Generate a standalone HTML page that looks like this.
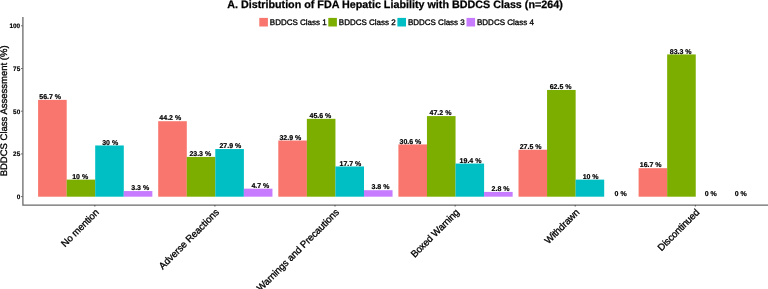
<!DOCTYPE html>
<html><head><meta charset="utf-8"><title>BDDCS</title>
<style>html,body{margin:0;padding:0;background:#fff}svg{display:block}text{font-family:"Liberation Sans",Arial,sans-serif;fill:#000;text-rendering:geometricPrecision}</style></head><body>
<svg width="768" height="289" viewBox="0 0 768 289">
<rect width="768" height="289" fill="#fff"/>
<text x="395" y="7.6" font-size="10.75" font-weight="bold" text-anchor="middle" stroke="#000" stroke-width="0.25">A. Distribution of FDA Hepatic Liability with BDDCS Class (n=264)</text>
<rect x="259.3" y="17.9" width="8.6" height="8.6" fill="#F8766D"/>
<text x="269.80" y="25" font-size="8" stroke="#000" stroke-width="0.3">BDDCS Class 1</text>
<rect x="328.3" y="17.9" width="8.6" height="8.6" fill="#7CAE00"/>
<text x="338.80" y="25" font-size="8" stroke="#000" stroke-width="0.3">BDDCS Class 2</text>
<rect x="397.4" y="17.9" width="8.6" height="8.6" fill="#00BFC4"/>
<text x="407.90" y="25" font-size="8" stroke="#000" stroke-width="0.3">BDDCS Class 3</text>
<rect x="466.5" y="17.9" width="8.6" height="8.6" fill="#C77CFF"/>
<text x="477.00" y="25" font-size="8" stroke="#000" stroke-width="0.3">BDDCS Class 4</text>
<rect x="38.10" y="99.86" width="28.60" height="96.84" fill="#F8766D"/>
<text x="50.16" y="98.96" font-size="7" font-weight="bold" text-anchor="middle" stroke="#000" stroke-width="0.2">56.7 %</text>
<rect x="66.65" y="179.62" width="28.60" height="17.08" fill="#7CAE00"/>
<text x="80.19" y="178.72" font-size="7" font-weight="bold" text-anchor="middle" stroke="#000" stroke-width="0.2">10 %</text>
<rect x="95.20" y="145.46" width="28.60" height="51.24" fill="#00BFC4"/>
<text x="110.21" y="144.56" font-size="7" font-weight="bold" text-anchor="middle" stroke="#000" stroke-width="0.2">30 %</text>
<rect x="123.75" y="191.06" width="28.60" height="5.64" fill="#C77CFF"/>
<text x="140.24" y="190.16" font-size="7" font-weight="bold" text-anchor="middle" stroke="#000" stroke-width="0.2">3.3 %</text>
<rect x="158.20" y="121.21" width="28.60" height="75.49" fill="#F8766D"/>
<text x="170.26" y="120.31" font-size="7" font-weight="bold" text-anchor="middle" stroke="#000" stroke-width="0.2">44.2 %</text>
<rect x="186.75" y="156.90" width="28.60" height="39.80" fill="#7CAE00"/>
<text x="200.29" y="156.00" font-size="7" font-weight="bold" text-anchor="middle" stroke="#000" stroke-width="0.2">23.3 %</text>
<rect x="215.30" y="149.05" width="28.60" height="47.65" fill="#00BFC4"/>
<text x="230.31" y="148.15" font-size="7" font-weight="bold" text-anchor="middle" stroke="#000" stroke-width="0.2">27.9 %</text>
<rect x="243.85" y="188.67" width="28.60" height="8.03" fill="#C77CFF"/>
<text x="260.34" y="187.77" font-size="7" font-weight="bold" text-anchor="middle" stroke="#000" stroke-width="0.2">4.7 %</text>
<rect x="278.30" y="140.51" width="28.60" height="56.19" fill="#F8766D"/>
<text x="290.36" y="139.61" font-size="7" font-weight="bold" text-anchor="middle" stroke="#000" stroke-width="0.2">32.9 %</text>
<rect x="306.85" y="118.82" width="28.60" height="77.88" fill="#7CAE00"/>
<text x="320.39" y="117.92" font-size="7" font-weight="bold" text-anchor="middle" stroke="#000" stroke-width="0.2">45.6 %</text>
<rect x="335.40" y="166.47" width="28.60" height="30.23" fill="#00BFC4"/>
<text x="350.41" y="165.57" font-size="7" font-weight="bold" text-anchor="middle" stroke="#000" stroke-width="0.2">17.7 %</text>
<rect x="363.95" y="190.21" width="28.60" height="6.49" fill="#C77CFF"/>
<text x="380.44" y="189.31" font-size="7" font-weight="bold" text-anchor="middle" stroke="#000" stroke-width="0.2">3.8 %</text>
<rect x="398.40" y="144.44" width="28.60" height="52.26" fill="#F8766D"/>
<text x="410.46" y="143.54" font-size="7" font-weight="bold" text-anchor="middle" stroke="#000" stroke-width="0.2">30.6 %</text>
<rect x="426.95" y="116.08" width="28.60" height="80.62" fill="#7CAE00"/>
<text x="440.49" y="115.18" font-size="7" font-weight="bold" text-anchor="middle" stroke="#000" stroke-width="0.2">47.2 %</text>
<rect x="455.50" y="163.56" width="28.60" height="33.14" fill="#00BFC4"/>
<text x="470.51" y="162.66" font-size="7" font-weight="bold" text-anchor="middle" stroke="#000" stroke-width="0.2">19.4 %</text>
<rect x="484.05" y="191.92" width="28.60" height="4.78" fill="#C77CFF"/>
<text x="500.54" y="191.02" font-size="7" font-weight="bold" text-anchor="middle" stroke="#000" stroke-width="0.2">2.8 %</text>
<rect x="518.50" y="149.73" width="28.60" height="46.97" fill="#F8766D"/>
<text x="530.56" y="148.83" font-size="7" font-weight="bold" text-anchor="middle" stroke="#000" stroke-width="0.2">27.5 %</text>
<rect x="547.05" y="89.95" width="28.60" height="106.75" fill="#7CAE00"/>
<text x="560.59" y="89.05" font-size="7" font-weight="bold" text-anchor="middle" stroke="#000" stroke-width="0.2">62.5 %</text>
<rect x="575.60" y="179.62" width="28.60" height="17.08" fill="#00BFC4"/>
<text x="590.61" y="178.72" font-size="7" font-weight="bold" text-anchor="middle" stroke="#000" stroke-width="0.2">10 %</text>
<text x="620.64" y="195.80" font-size="7" font-weight="bold" text-anchor="middle" stroke="#000" stroke-width="0.2">0 %</text>
<rect x="638.60" y="168.18" width="28.60" height="28.52" fill="#F8766D"/>
<text x="650.66" y="167.28" font-size="7" font-weight="bold" text-anchor="middle" stroke="#000" stroke-width="0.2">16.7 %</text>
<rect x="667.15" y="54.42" width="28.60" height="142.28" fill="#7CAE00"/>
<text x="680.69" y="53.52" font-size="7" font-weight="bold" text-anchor="middle" stroke="#000" stroke-width="0.2">83.3 %</text>
<text x="710.71" y="195.80" font-size="7" font-weight="bold" text-anchor="middle" stroke="#000" stroke-width="0.2">0 %</text>
<text x="740.74" y="195.80" font-size="7" font-weight="bold" text-anchor="middle" stroke="#000" stroke-width="0.2">0 %</text>
<path d="M22.9 17V205.05H768" fill="none" stroke="#6a6a6a" stroke-width="1.3"/>
<path d="M21.2 196.60H22.4" stroke="#222" stroke-width="0.8"/>
<text x="20.2" y="199.10" font-size="6.4" font-weight="bold" text-anchor="end" stroke="#000" stroke-width="0.15">0</text>
<path d="M21.2 153.90H22.4" stroke="#222" stroke-width="0.8"/>
<text x="20.2" y="156.40" font-size="6.4" font-weight="bold" text-anchor="end" stroke="#000" stroke-width="0.15">25</text>
<path d="M21.2 111.20H22.4" stroke="#222" stroke-width="0.8"/>
<text x="20.2" y="113.70" font-size="6.4" font-weight="bold" text-anchor="end" stroke="#000" stroke-width="0.15">50</text>
<path d="M21.2 68.50H22.4" stroke="#222" stroke-width="0.8"/>
<text x="20.2" y="71.00" font-size="6.4" font-weight="bold" text-anchor="end" stroke="#000" stroke-width="0.15">75</text>
<path d="M21.2 25.80H22.4" stroke="#222" stroke-width="0.8"/>
<text x="20.2" y="28.30" font-size="6.4" font-weight="bold" text-anchor="end" stroke="#000" stroke-width="0.15">100</text>
<path d="M94.80 205V206.6" stroke="#333" stroke-width="0.7"/>
<text transform="translate(99.60,212.9) rotate(-45)" font-size="9.7" text-anchor="end" textLength="48.9" lengthAdjust="spacing" stroke="#000" stroke-width="0.3">No mention</text>
<path d="M214.90 205V206.6" stroke="#333" stroke-width="0.7"/>
<text transform="translate(219.70,212.9) rotate(-45)" font-size="9.7" text-anchor="end" textLength="80.6" lengthAdjust="spacing" stroke="#000" stroke-width="0.3">Adverse Reactions</text>
<path d="M335.00 205V206.6" stroke="#333" stroke-width="0.7"/>
<text transform="translate(339.80,212.9) rotate(-45)" font-size="9.7" text-anchor="end" textLength="111.7" lengthAdjust="spacing" stroke="#000" stroke-width="0.3">Warnings and Precautions</text>
<path d="M455.10 205V206.6" stroke="#333" stroke-width="0.7"/>
<text transform="translate(459.90,212.9) rotate(-45)" font-size="9.7" text-anchor="end" textLength="63.9" lengthAdjust="spacing" stroke="#000" stroke-width="0.3">Boxed Warning</text>
<path d="M575.20 205V206.6" stroke="#333" stroke-width="0.7"/>
<text transform="translate(580.00,212.9) rotate(-45)" font-size="9.7" text-anchor="end" textLength="44.7" lengthAdjust="spacing" stroke="#000" stroke-width="0.3">Withdrawn</text>
<path d="M695.30 205V206.6" stroke="#333" stroke-width="0.7"/>
<text transform="translate(700.10,212.9) rotate(-45)" font-size="9.7" text-anchor="end" textLength="54.5" lengthAdjust="spacing" stroke="#000" stroke-width="0.3">Discontinued</text>
<text transform="translate(6.9,110.9) rotate(-90)" font-size="9.5" text-anchor="middle" stroke="#000" stroke-width="0.3">BDDCS Class Assessment (%)</text>
</svg></body></html>
